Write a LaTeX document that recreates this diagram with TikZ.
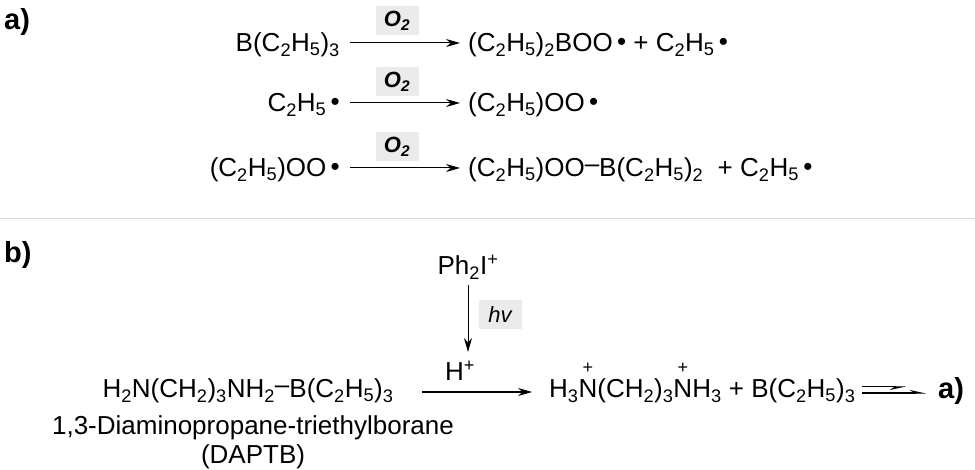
\documentclass[tikz,border=0pt]{standalone}
\usepackage{fontspec}
\setmainfont{Liberation Sans}
\usetikzlibrary{arrows.meta}
\newcommand\sbs[1]{\textsubscript{#1}}
\newcommand\rad{\,\raisebox{0.1ex}{•}}
\newcommand\Np{{\ooalign{N\cr\hidewidth\raisebox{0.95em}{\fontsize{18}{18}\selectfont+}\hidewidth}}}
\begin{document}
\begin{tikzpicture}[x=1pt,y=-1pt,font=\fontsize{26}{30}\selectfont,
  txt/.style={inner sep=0pt},
  lbl/.style={inner sep=0pt,font=\fontsize{29}{32}\selectfont\bfseries},
  box/.style={fill=black!8,minimum width=43pt,minimum height=29pt,inner sep=0pt},
  arr/.style={-{Stealth[length=14pt,width=8pt]},line width=1pt}]
\useasboundingbox (0,0) rectangle (975,470);
\node[lbl,anchor=base west] (la) at (4,30) {a)};
% line 1
\node[txt,anchor=base east] (l1) at (340,52) {B(C\sbs2H\sbs5)\sbs3};
\node[txt,anchor=base west] (r1) at (468,52) {(C\sbs2H\sbs5)\sbs2BOO\rad{} + C\sbs2H\sbs5\rad};
\coordinate (a1s) at (350,43); \coordinate (a1e) at (460,43);
\draw[arr] (a1s) -- (a1e);
\node[box,font=\fontsize{22}{26}\selectfont\bfseries\itshape] (o1) at (397,21) {O\sbs2};
% line 2
\node[txt,anchor=base east] (l2) at (340,112) {C\sbs2H\sbs5\rad};
\node[txt,anchor=base west] (r2) at (468,112) {(C\sbs2H\sbs5)OO\rad};
\coordinate (a2s) at (350,103); \coordinate (a2e) at (460,103);
\draw[arr] (a2s) -- (a2e);
\node[box,font=\fontsize{22}{26}\selectfont\bfseries\itshape] (o2) at (397,82) {O\sbs2};
% line 3
\node[txt,anchor=base east] (l3) at (340,177) {(C\sbs2H\sbs5)OO\rad};
\node[txt,anchor=base west] (r3) at (468,177) {(C\sbs2H\sbs5)OO\raisebox{0.3ex}{–}B(C\sbs2H\sbs5)\sbs2 \ + C\sbs2H\sbs5\rad};
\coordinate (a3s) at (350,168); \coordinate (a3e) at (460,168);
\draw[arr] (a3s) -- (a3e);
\node[box,font=\fontsize{22}{26}\selectfont\bfseries\itshape] (o3) at (397,147) {O\sbs2};
% separator
\coordinate (s1) at (0,218); \coordinate (s2) at (975,218);
\draw[black!15,line width=0.8pt] (s1) -- (s2);
% b
\node[lbl,anchor=base west] (lb) at (4,263) {b)};
\node[txt,anchor=base] (ph) at (468,275) {Ph\sbs2I\textsuperscript{+}};
\node[txt,anchor=base] (hp) at (460,381) {H\textsuperscript{+}};
\coordinate (v1) at (468,285); \coordinate (v2) at (468,352);
\draw[arr] (v1) -- (v2);
\node[box,font=\fontsize{22}{26}\selectfont\itshape] (hv) at (500,315) {hv};
\node[txt,anchor=base] (daptb) at (248,398) {H\sbs2N(CH\sbs2)\sbs3NH\sbs2\raisebox{0.3ex}{–}B(C\sbs2H\sbs5)\sbs3};
\node[txt,anchor=base] (name) at (253,434) {1,3-Diaminopropane-triethylborane};
\node[txt,anchor=base] (abbr) at (253,463) {(DAPTB)};
\coordinate (b1) at (422,392); \coordinate (b2) at (532,392);
\draw[arr] (b1) -- (b2);
\node[txt,anchor=base west] (prod) at (549,398) {H\sbs3\Np(CH\sbs2)\sbs3\Np H\sbs3 + B(C\sbs2H\sbs5)\sbs3};
\coordinate (d1) at (862,387); \coordinate (d2) at (906,387);
\coordinate (d3) at (862,393); \coordinate (d4) at (926,393);
\draw[line width=1pt,-{Stealth[harpoon,swap,length=14pt,width=6pt]}] (d1) -- (d2);
\draw[line width=1pt,-{Stealth[harpoon,length=14pt,width=6pt]}] (d3) -- (d4);
\node[lbl,anchor=base west] (la2) at (938,399) {a)};
\end{tikzpicture}
\end{document}
